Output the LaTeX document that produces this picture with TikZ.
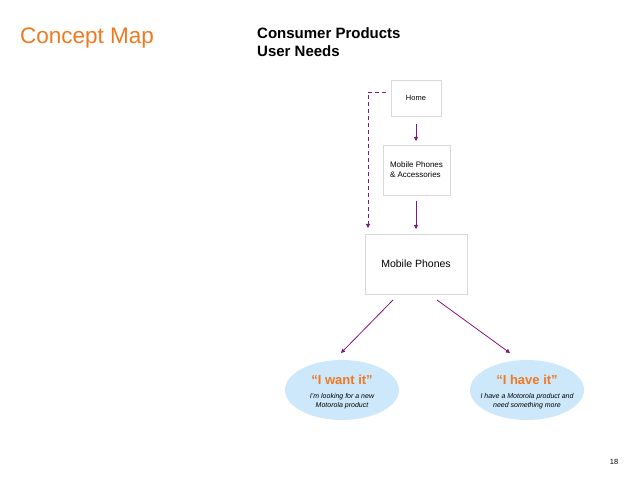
\documentclass[tikz,border=0pt]{standalone}
\usepackage{fontspec}
\setmainfont{Liberation Sans}
\usetikzlibrary{arrows.meta,shapes.geometric}
\definecolor{org}{RGB}{240,120,30}
\definecolor{pur}{RGB}{128,20,128}
\definecolor{lb}{RGB}{204,232,250}
\begin{document}
\begin{tikzpicture}[x=1pt,y=-1pt,
 box/.style={draw=black!15,line width=0.5pt,align=center,inner sep=0pt},
 arr/.style={draw=pur,line width=0.8pt,-{Triangle[length=4pt,width=4pt]}},
 ell/.style={ellipse,fill=lb,minimum width=114pt,minimum height=60pt,align=center,inner sep=0pt}]
\useasboundingbox (0,0) rectangle (638,478);
\node[anchor=west,text=org,font=\fontsize{22.5}{26}\selectfont,inner sep=0pt] (t) at (20,38) {Concept Map};
\node[anchor=north west,font=\bfseries\fontsize{15}{18}\selectfont,align=left,inner sep=0pt] (h) at (257,27) {Consumer Products\\User Needs};
\node[box,minimum width=50pt,minimum height=36pt,font=\fontsize{7.5}{9}\selectfont] (home) at (416,98) {Home};
\node[box,minimum width=67pt,minimum height=50pt,font=\fontsize{8}{10}\selectfont,align=left] (mpa) at (416.5,170) {Mobile Phones\\\& Accessories};
\node[box,minimum width=102pt,minimum height=60pt,font=\fontsize{10.5}{12}\selectfont] (mp) at (416,264) {Mobile Phones};
\node[ell] (want) at (342,390) {};
\node[text=org,font=\bfseries\fontsize{13}{15}\selectfont] (wt) at (342,380) {“I want it”};
\node[font=\itshape\fontsize{7}{8.5}\selectfont,align=center] (ws) at (342,401) {I'm looking for a new\\Motorola product};
\node[ell] (have) at (527,390) {};
\node[text=org,font=\bfseries\fontsize{13}{15}\selectfont] (ht) at (527,380) {“I have it”};
\node[font=\itshape\fontsize{7}{8.5}\selectfont,align=center] (hs) at (527,401) {I have a Motorola product and\\need something more};
\node[font=\fontsize{7.5}{9}\selectfont] (pg) at (614,462) {18};
\coordinate (d1) at (386,92);
\coordinate (d2) at (368,92);
\coordinate (d3) at (368,228);
\draw[arr] (416,124) -- (416,141);
\draw[arr] (416,201) -- (416,229);
\draw[arr,dashed,dash pattern=on 4pt off 3pt] (d1) -- (d2) -- (d3);
\draw[arr] (393,300) -- (341,353);
\draw[arr] (437,300) -- (510,353);
\end{tikzpicture}
\end{document}
